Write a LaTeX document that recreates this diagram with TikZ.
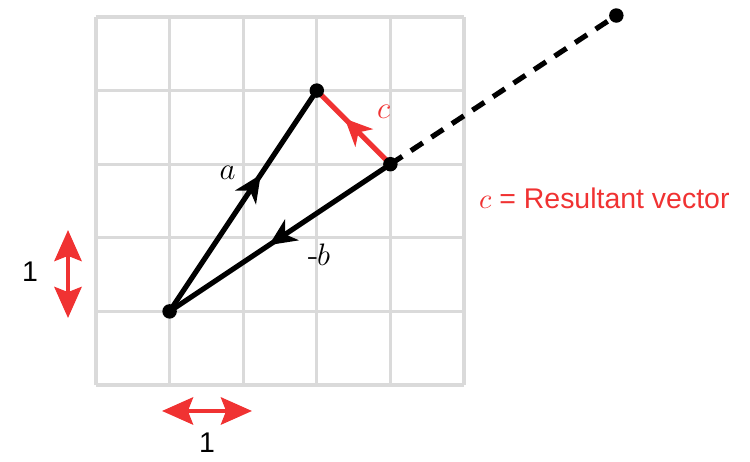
\documentclass[tikz,border=0pt]{standalone}
\usepackage{fontspec}
\setsansfont{Liberation Sans}
\usetikzlibrary{arrows.meta,decorations.markings}
\definecolor{vred}{RGB}{240,50,50}
\definecolor{gridgray}{RGB}{218,218,218}
\begin{document}
\begin{tikzpicture}[x=1cm,y=1cm,
  gridline/.style={draw=gridgray,line width=1.2pt},
  vec/.style={line width=2pt},
  dot/.style={circle,fill=black,inner sep=0pt,minimum size=5.6pt},
  midarrow/.style 2 args={postaction={decorate,decoration={markings,
     mark=at position #1 with {\arrow{Stealth[length=10.5pt,width=9.5pt,inset=3pt,#2]}}}}},
  unitarrow/.style={draw=vred,line width=1.7pt,
     {Stealth[length=12pt,width=10.5pt,inset=2pt,vred]}-{Stealth[length=12pt,width=10.5pt,inset=2pt,vred]}},
  sanslabel/.style={font=\sffamily\fontsize{11}{13}\selectfont,inner sep=0pt},
  mathlabel/.style={font=\fontsize{12.5}{14}\selectfont,inner sep=0pt}]
\useasboundingbox (-1.304,-1.033) rectangle (8.886,5.231);
% grid
\foreach \i in {0,...,5} {
  \draw[gridline] (\i,0) -- (\i,5);
  \draw[gridline] (0,\i) -- (5,\i);
}
% points
\coordinate (O) at (1,1);
\coordinate (A) at (3,4);
\coordinate (B) at (4,3);
\coordinate (F) at (7.07,5.02);
% dashed extension
\draw[vec,dash pattern=on 5.5pt off 4pt] (B) -- (F);
% vectors
\draw[vec,midarrow={0.62}{black}] (O) -- (A);
\draw[vec,midarrow={0.55}{black}] (B) -- (O);
\draw[vec,draw=vred,midarrow={0.62}{vred}] (B) -- (A);
% dots
\node[dot] (dO) at (O) {};
\node[dot] (dA) at (A) {};
\node[dot] (dB) at (B) {};
\node[dot] (dF) at (F) {};
% labels
\node[mathlabel] (la) at (1.79,2.88) {$a$};
\node[mathlabel] (lb) at (3.03,1.77) {\rmfamily -\kern-0.5pt$b$};
\node[mathlabel,text=vred] (lc) at (3.91,3.71) {$c$};
\node[sanslabel,text=vred,anchor=west] (res) at (5.2,2.53) {$c$ = Resultant vector};
% unit arrows
\coordinate (v1) at (-0.38,2.106);
\coordinate (v2) at (-0.38,0.91);
\draw[unitarrow] (v1) -- (v2);
\coordinate (h1) at (0.897,-0.353);
\coordinate (h2) at (2.12,-0.353);
\draw[unitarrow] (h1) -- (h2);
\node[sanslabel] (one1) at (-0.897,1.535) {1};
\node[sanslabel] (one2) at (1.508,-0.788) {1};
\end{tikzpicture}
\end{document}
